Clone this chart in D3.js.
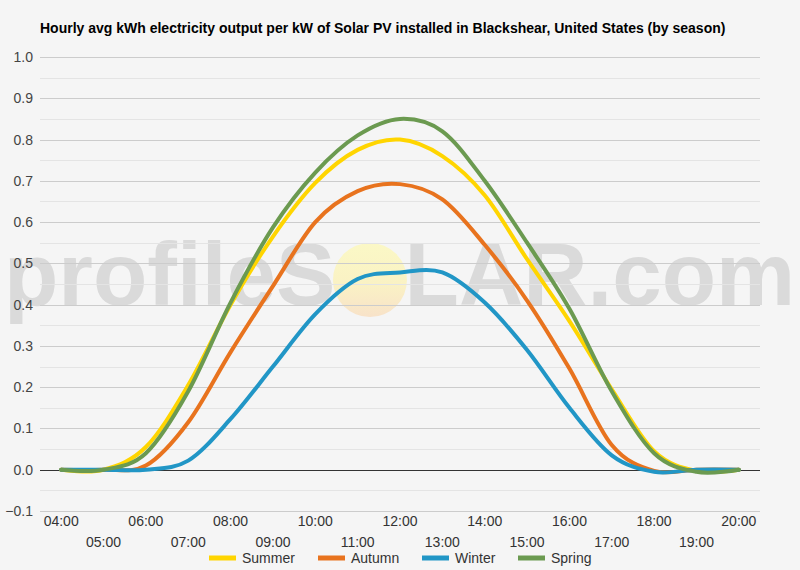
<!DOCTYPE html>
<html>
<head>
<meta charset="utf-8">
<script src="https://cdn.jsdelivr.net/npm/d3@7"></script>
<style>
  body { margin: 0; background: #f5f5f5; }
  svg { display: block; font-family: "Liberation Sans", Arial, sans-serif; }
</style>
</head>
<body>
<div id="chart"></div>
<script>
var hours = ["04:00", "05:00", "06:00", "07:00", "08:00", "09:00", "10:00", "11:00", "12:00",
             "13:00", "14:00", "15:00", "16:00", "17:00", "18:00", "19:00", "20:00"];

var summer = [0, 0, 0.055, 0.205, 0.40, 0.565, 0.695, 0.775, 0.80, 0.76, 0.665, 0.51, 0.36, 0.195, 0.045, -0.003, 0];
var autumn = [0, 0, 0.01, 0.115, 0.285, 0.445, 0.60, 0.675, 0.692, 0.655, 0.545, 0.41, 0.245, 0.06, -0.003, 0, 0];
var winter = [0, 0, 0, 0.022, 0.123, 0.25, 0.377, 0.462, 0.478, 0.478, 0.405, 0.29, 0.15, 0.035, -0.005, 0, 0];
var spring = [0, 0, 0.04, 0.19, 0.405, 0.587, 0.72, 0.81, 0.85, 0.82, 0.70, 0.55, 0.39, 0.19, 0.04, -0.005, 0];

var seriesNames = ["Summer", "Autumn", "Winter", "Spring"];
var seriesColors = ["#ffd500", "#e8731e", "#2196c6", "#6b9a50"];
var yTicks = [-0.1, 0, 0.1, 0.2, 0.3, 0.4, 0.5, 0.6, 0.7, 0.8, 0.9, 1.0];

var title = "Hourly avg kWh electricity output per kW of Solar PV installed in Blackshear, United States (by season)";

var width = 800, height = 570;
var margin = {top: 57, right: 40, bottom: 58, left: 40};

var series = [summer, autumn, winter, spring].map(function(v, i) {
  return {name: seriesNames[i], color: seriesColors[i], values: v};
});

var svg = d3.select("#chart").append("svg")
    .attr("width", width)
    .attr("height", height);

svg.append("rect")
    .attr("width", width)
    .attr("height", height)
    .attr("fill", "#f5f5f5");

var x = d3.scaleBand()
    .domain(hours)
    .range([margin.left, width - margin.right]);

var y = d3.scaleLinear()
    .domain([-0.1, 1.0])
    .range([height - margin.bottom - 1, margin.top]);

// Watermark
var defs = svg.append("defs");
var grad = defs.append("linearGradient")
    .attr("id", "sun")
    .attr("x1", 0).attr("y1", 0)
    .attr("x2", 0).attr("y2", 1);
grad.append("stop").attr("offset", "0%").attr("stop-color", "#fbf8c6");
grad.append("stop").attr("offset", "55%").attr("stop-color", "#faf2c4");
grad.append("stop").attr("offset", "100%").attr("stop-color", "#f8e2c9");

var wm = svg.append("g").attr("class", "watermark");
var wmText = wm.append("text")
    .attr("x", 4)
    .attr("y", 305)
    .style("font-size", "89px")
    .style("font-weight", "bold")
    .style("fill", "#dadada");
wmText.append("tspan").text("profileS");
wmText.append("tspan").text("O").style("fill", "none");
wmText.append("tspan").text("LAR.com");

var first = wmText.node().getSubStringLength(0, 8);
var oWidth = wmText.node().getSubStringLength(8, 1);
wm.insert("circle", "text")
    .attr("cx", 4 + first + oWidth / 2)
    .attr("cy", 280)
    .attr("r", 37)
    .attr("fill", "url(#sun)");

// Gridlines
var minor = d3.range(-0.05, 1.0, 0.1);
svg.append("g").selectAll("line")
    .data(minor)
  .enter().append("line")
    .attr("x1", margin.left)
    .attr("x2", width - margin.right)
    .attr("y1", function(d) { return Math.round(y(d)) + 0.5; })
    .attr("y2", function(d) { return Math.round(y(d)) + 0.5; })
    .attr("stroke", "#e4e4e4");

svg.append("g").selectAll("line")
    .data(yTicks)
  .enter().append("line")
    .attr("x1", margin.left)
    .attr("x2", width - margin.right)
    .attr("y1", function(d) { return Math.round(y(d)) + 0.5; })
    .attr("y2", function(d) { return Math.round(y(d)) + 0.5; })
    .attr("stroke", function(d) { return d === 0 ? "#333" : "#cccccc"; });

// Y axis labels
var yAxis = d3.axisLeft(y)
    .tickValues(yTicks)
    .tickFormat(d3.format(".1f"))
    .tickSize(0)
    .tickPadding(7);

svg.append("g")
    .attr("transform", "translate(" + margin.left + ",0)")
    .call(yAxis)
    .call(function(g) { g.select(".domain").remove(); })
    .selectAll("text")
    .style("font-size", "14px")
    .style("font-family", "Liberation Sans, Arial, sans-serif")
    .attr("fill", "#444");

// X axis labels (staggered)
var xAxis = d3.axisBottom(x).tickSize(0).tickPadding(0);
var xg = svg.append("g")
    .attr("transform", "translate(0," + (height - margin.bottom) + ")")
    .call(xAxis);
xg.select(".domain").remove();
xg.selectAll("text")
    .style("font-size", "14px")
    .style("font-family", "Liberation Sans, Arial, sans-serif")
    .attr("fill", "#333")
    .attr("dy", null)
    .attr("y", function(d, i) { return i % 2 === 0 ? 14 : 35; });

// Lines
var line = d3.line()
    .x(function(d, i) { return x(hours[i]) + x.bandwidth() / 2; })
    .y(function(d) { return y(d); })
    .curve(d3.curveCardinal.tension(0));

svg.append("g").selectAll("path")
    .data(series)
  .enter().append("path")
    .attr("d", function(d) { return line(d.values); })
    .attr("fill", "none")
    .attr("stroke", function(d) { return d.color; })
    .attr("stroke-width", 4)
    .attr("stroke-linecap", "round")
    .attr("stroke-linejoin", "round");

// Title
svg.append("text")
    .attr("x", 40)
    .attr("y", 33)
    .style("font-size", "14px")
    .style("font-weight", "bold")
    .attr("fill", "#000")
    .text(title);

// Legend
var legendX = [209, 318, 422, 518];
var legend = svg.append("g").selectAll("g")
    .data(series)
  .enter().append("g")
    .attr("transform", function(d, i) { return "translate(" + legendX[i] + ",558)"; });

legend.append("line")
    .attr("x1", 0)
    .attr("x2", 27)
    .attr("stroke", function(d) { return d.color; })
    .attr("stroke-width", 5);

legend.append("text")
    .attr("x", 33)
    .attr("dy", "0.35em")
    .style("font-size", "14px")
    .attr("fill", "#333")
    .text(function(d) { return d.name; });
</script>
</body>
</html>
